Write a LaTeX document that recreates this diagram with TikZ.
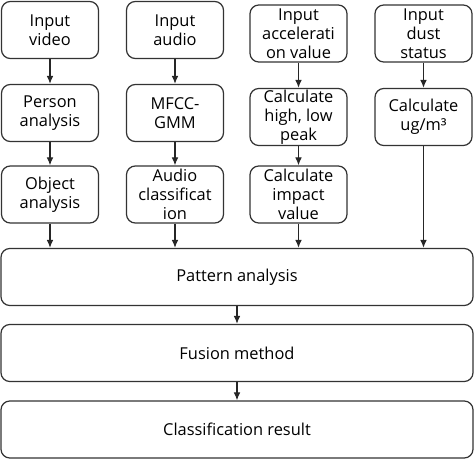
\documentclass[tikz,border=0pt]{standalone}
\usepackage{fontspec}
\setmainfont{Open Sans}
\usetikzlibrary{arrows.meta}
\begin{document}
\begin{tikzpicture}[x=0.03cm, y=-0.03cm,
    >={Latex[length=2.4mm,width=2mm]},
    stage/.style={draw=black!80, line width=1.05pt, rounded corners=7.5pt, align=center,
        minimum width=2.91cm, minimum height=1.71cm, inner sep=0pt,
        font=\fontsize{14}{16.4}\selectfont},
    wide/.style={stage, minimum width=14.16cm},
    flow/.style={->, draw=black!85, line width=1pt}]
        \useasboundingbox (0,0) rectangle (474,460);

        % Video column
        \node[stage] (video)  at (50,30)    {Input\\video};
        \node[stage] (person) at (50,113)   {Person\\analysis};
        \node[stage] (object) at (50,194.5) {Object\\analysis};

        % Audio column
        \node[stage] (audio)  at (175,30)    {Input\\audio};
        \node[stage] (mfcc)   at (175,113)   {MFCC-\\GMM};
        \node[stage] (aclass) at (175,194.5) {Audio\\classificat\\ion};

        % Acceleration column
        \node[stage] (accel)  at (298.5,33.5) {Input\\accelerati\\on value};
        \node[stage] (peak)   at (298.5,117)  {Calculate\\high, low\\peak};
        \node[stage] (impact) at (298.5,194.5) {Calculate\\impact\\value};

        % Dust column
        \node[stage] (dust)   at (423.5,33.5) {Input\\dust\\status};
        \node[stage] (ugm)    at (423.5,117)  {Calculate\\ug/m³};

        % Fusion stages
        \node[wide] (pattern) at (237,277)   {Pattern analysis};
        \node[wide] (fusion)  at (237,353)   {Fusion method};
        \node[wide] (result)  at (237,429.5) {Classification result};

        % Arrows
        \draw[flow] (video) -- (person);
        \draw[flow] (person) -- (object);
        \draw[flow] (audio) -- (mfcc);
        \draw[flow] (mfcc) -- (aclass);
        \draw[flow] (accel) -- (peak);
        \draw[flow] (peak) -- (impact);
        \draw[flow] (dust) -- (ugm);
        \draw[flow] (object) -- (object |- pattern.north);
        \draw[flow] (aclass) -- (aclass |- pattern.north);
        \draw[flow] (impact) -- (impact |- pattern.north);
        \draw[flow] (ugm) -- (ugm |- pattern.north);
        \draw[flow] (pattern) -- (fusion);
        \draw[flow] (fusion) -- (result);
\end{tikzpicture}
\end{document}
